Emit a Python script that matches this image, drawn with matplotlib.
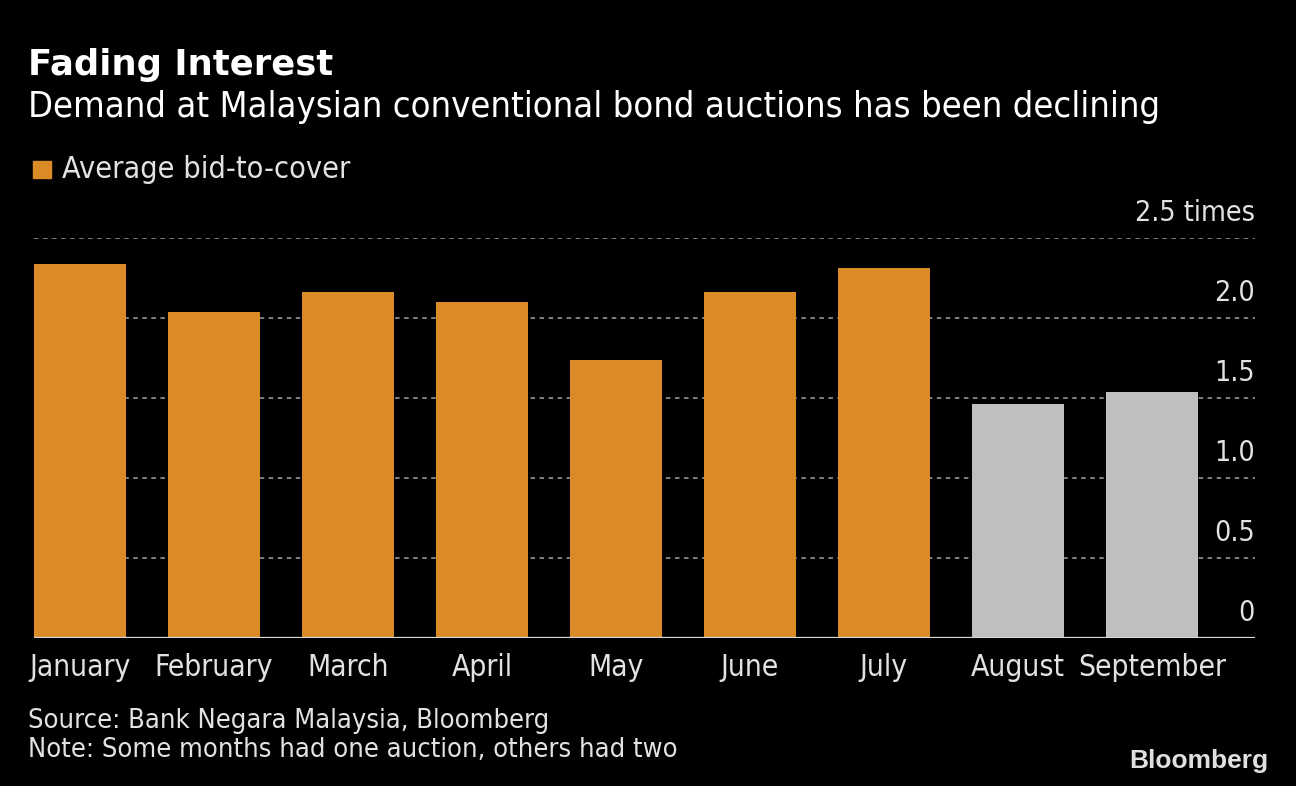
import matplotlib
matplotlib.use("Agg")
import matplotlib.pyplot as plt

# data
months = ["January", "February", "March", "April", "May",
          "June", "July", "August", "September"]
bid_to_cover = [2.34, 2.04, 2.16, 2.10, 1.74, 2.16, 2.31, 1.46, 1.54]
highlight = [True] * 7 + [False] * 2
y_ticks = [0, 0.5, 1.0, 1.5, 2.0, 2.5]
y_labels = ["0", "0.5", "1.0", "1.5", "2.0", "2.5 times"]

ORANGE = "#DA8A26"
GREY = "#BFBFBF"
TEXT = "#E2E2E2"

# DejaVu Sans Condensed is close to the narrow Bloomberg face
COND = dict(family=["DejaVu Sans"], fontstretch="condensed")

W, H = 1296, 786
fig = plt.figure(figsize=(W / 100, H / 100), dpi=100, facecolor="black")

# axes box in pixels: left, right, baseline, 2.5 gridline
left, right, bottom, top = 34, 1255, 638, 238
ax = fig.add_axes([left / W, 1 - bottom / H, (right - left) / W, (bottom - top) / H])
ax.set_facecolor("black")

colors = [ORANGE if h else GREY for h in highlight]
x = list(range(len(months)))
ax.bar(x, bid_to_cover, width=0.687, color=colors, zorder=2)

ax.set_ylim(0, 2.5)
ax.set_xlim(-0.3435, 8.77)

for v in y_ticks[1:]:
    ax.axhline(v, color="#8A8A8A", lw=1.3, ls=(0, (2.5, 2.5)), zorder=1)
ax.axhline(0, color="#D8D8D8", lw=1.6, zorder=3)

# y labels sit inside the plot, right aligned, just above each gridline
for v, lbl in zip(y_ticks, y_labels):
    ax.annotate(lbl, xy=(1, v), xycoords=("axes fraction", "data"),
                xytext=(0, 12.5), textcoords="offset points",
                ha="right", va="baseline", color=TEXT, fontsize=20.5, **COND)

ax.set_xticks(x)
ax.set_xticklabels(months, fontsize=21.5, color=TEXT, **COND)
for lbl in ax.get_xticklabels():
    lbl.set_va("baseline")
ax.tick_params(axis="x", length=0, pad=27.4)
ax.set_yticks([])
for s in ax.spines.values():
    s.set_visible(False)

# header
fig.text(28 / W, 1 - 75 / H, "Fading Interest", fontsize=25.5, fontweight="bold",
         color="white", va="baseline", family="DejaVu Sans")
fig.text(28 / W, 1 - 117 / H, "Demand at Malaysian conventional bond auctions has been declining",
         fontsize=26, color="white", va="baseline", **COND)
fig.patches.append(plt.Rectangle((33 / W, 1 - 178 / H), 18 / W, 17 / H,
                                 transform=fig.transFigure, color=ORANGE))
fig.text(62 / W, 1 - 178 / H, "Average bid-to-cover", fontsize=22, color=TEXT,
         va="baseline", **COND)

# footer
fig.text(28 / W, 1 - 728 / H, "Source: Bank Negara Malaysia, Bloomberg",
         fontsize=19.5, color=TEXT, va="baseline", **COND)
fig.text(28 / W, 1 - 757 / H, "Note: Some months had one auction, others had two",
         fontsize=19.5, color=TEXT, va="baseline", **COND)
fig.text(1268 / W, 1 - 768 / H, "Bloomberg", fontsize=19, fontweight="bold",
         color="#E0E0E0", family=["Liberation Sans", "DejaVu Sans"], ha="right", va="baseline")

fig.savefig("out.png", dpi=100, facecolor="black")
